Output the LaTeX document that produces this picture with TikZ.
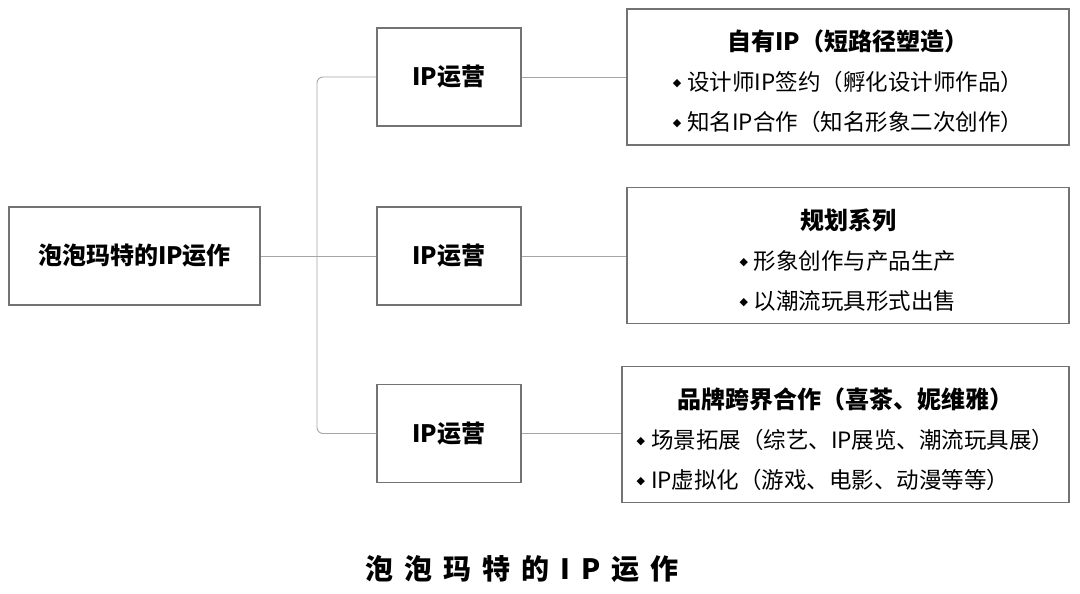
\documentclass[tikz,border=0pt]{standalone}
\usepackage{fontspec}
\setmainfont{Noto Sans CJK SC}
\newfontfamily\bulletfont{DejaVu Sans}
\usetikzlibrary{positioning}

\newcommand{\titlefont}{\fontsize{24}{28}\selectfont\bfseries}
\newcommand{\bul}{\raisebox{4pt}{\bulletfont\fontsize{11}{11}\selectfont ◆}\hspace{6pt}}
\newcommand{\gap}{\hspace{11pt}}
% title row centred over a left-aligned pair of bullets
\newcommand{\infotext}[3]{\raisebox{-6pt}[\height][\depth]{%
    \begin{tabular}{@{}l@{}}
        \multicolumn{1}{@{}c@{}}{\titlefont #1}\\
        \bul #2\\
        \bul #3
    \end{tabular}}}

\begin{document}
\begin{tikzpicture}[
    x=1pt, y=-1pt,
    box/.style={rectangle, draw=black!55, line width=1.1pt, fill=white,
                minimum width=#1, minimum height=98pt, inner sep=0pt,
                font=\fontsize{24}{28}\selectfont\bfseries},
    box/.default=144pt,
    infobox/.style={rectangle, draw=black!55, line width=1.1pt, fill=white,
                    minimum width=#1, minimum height=136pt, inner sep=0pt,
                    font=\fontsize{22.5}{40}\selectfont},
    infobox/.default=442pt,
    link/.style={draw=black!35, line width=0.9pt},
]

% --- page frame ---
\path [use as bounding box, fill=white] (0,0) rectangle (1080,594);

% --- root + middle column ---
\node (root) [box=251pt] at (134.5,256) {泡泡玛特的IP运作};

\node (ipA) [box] at (449,77)    {IP运营};
\node (ipB) [box] at (449,256)   {IP运营};
\node (ipC) [box] at (449,433.5) {IP运营};

% --- right column ---
\node (ownip) [infobox] at (848,77)
    {\infotext{自有IP（短路径塑造）}{设计师IP签约（孵化设计师作品）}{知名IP合作（知名形象二次创作）}};

\node (series) [infobox] at (848,255.5)
    {\infotext{规划系列}{形象创作与产品生产}{以潮流玩具形式出售}};

\node (crossover) [infobox=447pt] at (845.5,434.5)
    {\infotext{品牌跨界合作（喜茶、妮维雅）}{场景拓展（综艺、IP展览、潮流玩具展）}{IP虚拟化（游戏、电影、动漫等等）}};

% --- connectors ---
\coordinate (trunk) at (317,256);
\draw [link] (root) -- (ipB);
\draw [link, rounded corners=6pt] (ipA.west) -| (trunk) |- (ipC.west);

\draw [link] (ipA) -- (ipA -| ownip.west);
\draw [link] (ipB) -- (ipB -| series.west);
\draw [link] (ipC) -- (ipC -| crossover.west);

% --- caption ---
\node (caption) [font=\fontsize{28}{30}\selectfont\bfseries] at (522,569)
    {泡\gap 泡\gap 玛\gap 特\gap 的\gap I\gap P\gap 运\gap 作};

\end{tikzpicture}
\end{document}
